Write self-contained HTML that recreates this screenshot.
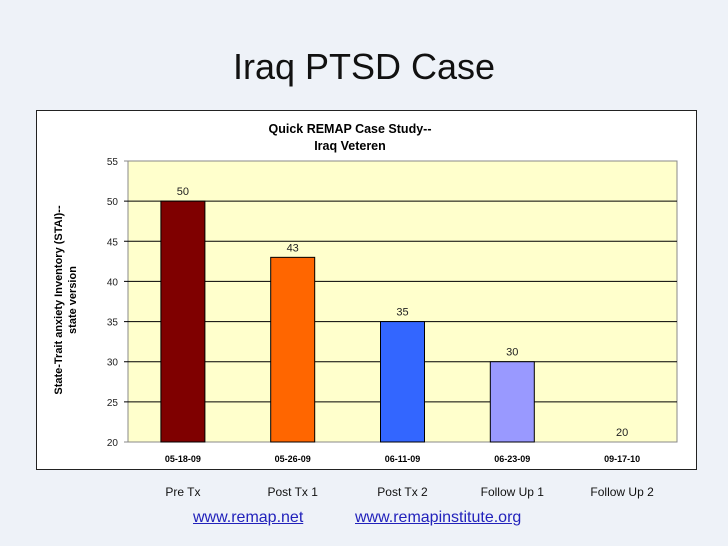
<!DOCTYPE html>
<html><head><meta charset="utf-8"><style>
body{margin:0;width:728px;height:546px;background:#eef2f8;position:relative;overflow:hidden;font-family:"Liberation Sans",sans-serif}
.t{position:absolute;white-space:nowrap}
</style></head><body>
<div class="t" style="left:0;width:728px;text-align:center;top:46px;font-size:36px;color:#111">Iraq PTSD Case</div>
<svg width="728" height="546" style="position:absolute;left:0;top:0">
<rect x="36.5" y="110.5" width="660" height="359" fill="#fff" stroke="#222"/>
<text x="350" y="133" text-anchor="middle" font-size="12.5" font-weight="bold">Quick REMAP Case Study--</text>
<text x="350" y="150" text-anchor="middle" font-size="12.5" font-weight="bold">Iraq Veteren</text>
<text transform="translate(62,300) rotate(-90)" text-anchor="middle" font-size="11" font-weight="bold"><tspan x="0" dy="0">State-Trait anxiety Inventory (STAI)--</tspan><tspan x="0" dy="14">state version</tspan></text>
<g id="g"></g>
</svg>
<div id="lbls"></div>
<div class="t" style="left:193px;top:509px;font-size:16px;color:#2222bb;text-decoration:underline">www.remap.net</div>
<div class="t" style="left:355px;top:509px;font-size:16px;color:#2222bb;text-decoration:underline">www.remapinstitute.org</div>
<script>
const categories=["05-18-09","05-26-09","06-11-09","06-23-09","09-17-10"];
const phases=["Pre Tx","Post Tx 1","Post Tx 2","Follow Up 1","Follow Up 2"];
const values=[50,43,35,30,20];
const colors=["#7f0000","#ff6600","#3366ff","#9999ff","#ffff99"];
const ticks=[20,25,30,35,40,45,50,55];
const L=128,R=677,T=161,B=442,ymin=20,ymax=55;
const y=v=>B-(v-ymin)/(ymax-ymin)*(B-T);
const bw=(R-L)/categories.length;
const x=i=>L+bw*(i+0.5);
const NS="http://www.w3.org/2000/svg";
const g=document.getElementById('g');
function mk(t,a,txt){const e=document.createElementNS(NS,t);for(const k in a)e.setAttribute(k,a[k]);if(txt!=null)e.textContent=txt;g.appendChild(e);return e;}
const pa=mk('rect',{x:L,y:T,width:R-L,height:B-T,fill:'#ffffcc',stroke:'#888'});


ticks.forEach(t=>{
 const ln=mk('line',{x1:L-4,x2:R,y1:y(t),y2:y(t),stroke:t==55||t==20?'#888':'#000','stroke-width':1});
 
 
 const tx=mk('text',{x:L-10,y:y(t)+4,'text-anchor':'end','font-size':10,fill:'#222'},t);
 
 
});
values.forEach((v,i)=>{
 if(v>ymin){const b=mk('rect',{x:x(i)-22,y:y(v),width:44,height:B-y(v),fill:colors[i],stroke:'#000','stroke-width':1});
 
 }
 const vl=mk('text',{x:x(i),y:y(v)-6,'text-anchor':'middle','font-size':11,fill:'#222'},v);
 
 
 const cl=mk('text',{x:x(i),y:462,'text-anchor':'middle','font-size':9,'font-weight':'bold'},categories[i]);
 
 
 const d=document.createElement('div');d.className='t';d.textContent=phases[i];
 d.style.cssText='left:'+(x(i)-60)+'px;width:120px;text-align:center;top:485px;font-size:12px;color:#111';
 
 
 document.getElementById('lbls').appendChild(d);
});
</script>
</body></html>
